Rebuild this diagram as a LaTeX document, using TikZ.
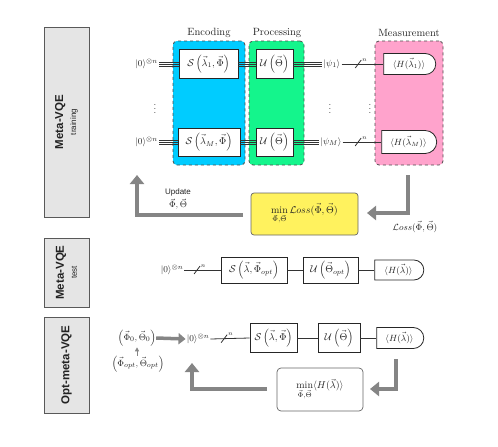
\documentclass[tikz,border=0pt]{standalone}
\usepackage{fontspec}
\usepackage{amsmath}
\newfontfamily\sansf{Liberation Sans}
\usetikzlibrary{arrows.meta,shapes.misc,calc}
\definecolor{encc}{HTML}{00CCFF}
\definecolor{proc}{HTML}{14F58C}
\definecolor{meas}{HTML}{FFA3CC}
\definecolor{yel}{HTML}{FFF25E}
\definecolor{ink}{HTML}{222222}
\definecolor{arr}{HTML}{858585}
\begin{document}
\begin{tikzpicture}[x=1pt,y=-1pt,
  every node/.style={text=ink},
  side/.style={draw=black!65, fill=black!10, line width=0.9pt, rotate=90, align=center, inner sep=0pt, minimum height=45pt},
  stage/.style={draw=black!70, dashed, rounded corners=4pt, line width=0.8pt},
  stagelab/.style={font=\fontsize{10.5}{12}\selectfont},
  gate/.style={draw=black!85, fill=white, line width=0.8pt, inner sep=0pt, font=\fontsize{10}{12}\selectfont},
  meter/.style={rounded rectangle, rounded rectangle left arc=none, draw=black!85, fill=white, line width=0.8pt, inner sep=0pt, font=\fontsize{9}{11}\selectfont},
  wire/.style={draw=black!80, line width=0.8pt},
  bigarrow/.style={draw=arr, line width=4.8pt, -{Triangle[length=9pt,width=14pt]}},
  txt/.style={font=\fontsize{9.5}{11}\selectfont, inner sep=1pt}
]
\useasboundingbox (0,0) rectangle (498,447);

% side labels
\node[side, minimum width=190pt] (lab1) at (66.5,122) {{\sansf\bfseries\fontsize{11.5}{14}\selectfont Meta-VQE}\\[1pt]{\sansf\fontsize{8}{10}\selectfont training}};
\node[side, minimum width=69pt] (lab2) at (66.5,272.5) {{\sansf\bfseries\fontsize{11.5}{14}\selectfont Meta-VQE}\\[1pt]{\sansf\fontsize{8}{10}\selectfont test}};
\node[side, minimum width=96pt] (lab3) at (66.5,365) {{\sansf\bfseries\fontsize{11.5}{14}\selectfont Opt-meta-VQE}};

% stage boxes
\node[stage, fill=encc, minimum width=72pt, minimum height=124pt] (enc) at (209,103) {};
\node[stage, fill=proc, minimum width=55pt, minimum height=124pt] (pro) at (276.5,103) {};
\node[stage, fill=meas, minimum width=68pt, minimum height=124pt] (mea) at (409,103) {};
\node[stagelab] (encl) at (209,33) {Encoding};
\node[stagelab] (prol) at (277,33) {Processing};
\node[stagelab] (meal) at (409,33) {Measurement};

% training row 1
\node[txt, anchor=east] (z1) at (159,64) {$|0\rangle^{\otimes n}$};
\node[gate, minimum width=59pt, minimum height=29pt] (S1) at (208.5,64) {$\mathcal{S}\left(\vec{\lambda}_1,\vec{\Phi}\right)$};
\node[gate, minimum width=37pt, minimum height=29pt] (U1) at (274.5,64) {$\mathcal{U}\left(\vec{\Theta}\right)$};
\node[txt] (psi1) at (332,64) {$|\psi_1\rangle$};
\node[meter, minimum width=52pt, minimum height=21pt] (M1) at (409,64) {$\langle H(\vec{\lambda}_1)\rangle$};

% training row M
\node[txt, anchor=east] (zM) at (159,142) {$|0\rangle^{\otimes n}$};
\node[gate, minimum width=62pt, minimum height=28pt] (SM) at (209,142) {$\mathcal{S}\left(\vec{\lambda}_M,\vec{\Phi}\right)$};
\node[gate, minimum width=37pt, minimum height=28pt] (UM) at (274.5,142) {$\mathcal{U}\left(\vec{\Theta}\right)$};
\node[txt] (psiM) at (331,142) {$|\psi_M\rangle$};
\node[meter, minimum width=55pt, minimum height=23pt] (MM) at (408.5,142) {$\langle H(\vec{\lambda}_M)\rangle$};

% dots
\node[txt] (d1) at (155,106) {$\vdots$};
\node[txt] (d2) at (330,106) {$\vdots$};
\node[txt] (d3) at (370,106) {$\vdots$};

% triple wires
\foreach \a/\b in {z1/S1,S1/U1,U1/psi1,zM/SM,SM/UM,UM/psiM}{
  \foreach \d in {-2,0,2}{
    \draw[wire, line width=0.7pt] ([yshift=\d pt]\a.east) -- ([yshift=\d pt]\b.west);
  }
}
% single wires with slash
\foreach \a/\b in {psi1/M1,psiM/MM}{
  \draw[wire] (\a.east) -- (\b.west);
  \draw[wire] ($(\a.east)!0.4!(\b.west)+(-3,4)$) -- ++(6,-8) node[right, inner sep=0.5pt, font=\fontsize{6}{7}\selectfont] {$n$};
}

% loss box and arrows
\node[draw=black!60, fill=yel, rounded corners=3pt, line width=0.7pt, minimum width=107pt, minimum height=42pt, inner sep=0pt] (loss) at (304.5,214) {$\displaystyle\min_{\vec{\Phi},\vec{\Theta}}\mathcal{L}oss(\vec{\Phi},\vec{\Theta})$};
\coordinate (r1) at (408,175);
\coordinate (r2) at (367,213);
\draw[bigarrow] (r1) |- (r2);
\coordinate (l1) at (243,215);
\coordinate (l2) at (137,175);
\draw[bigarrow] (l1) -| (l2);
\node[font=\sansf\fontsize{8}{9}\selectfont, inner sep=0pt] (upd) at (178,192) {Update};
\node[txt] (updv) at (178,204) {$\vec{\Phi},\vec{\Theta}$};
\node[txt] (lossl) at (415,227) {$\mathcal{L}oss(\vec{\Phi},\vec{\Theta})$};

% test row
\node[txt] (zt) at (172,270) {$|0\rangle^{\otimes n}$};
\node[gate, minimum width=66pt, minimum height=26pt] (St) at (254,270) {$\mathcal{S}\left(\vec{\lambda},\vec{\Phi}_{opt}\right)$};
\node[gate, minimum width=55pt, minimum height=26pt] (Ut) at (330.5,270) {$\mathcal{U}\left(\vec{\Theta}_{opt}\right)$};
\node[meter, minimum width=49pt, minimum height=20pt] (Mt) at (398.5,270) {$\langle H(\vec{\lambda})\rangle$};
\draw[wire] (zt.east) -- (St.west);
\draw[wire] ($(zt.east)!0.35!(St.west)+(-3,4)$) -- ++(6,-8) node[right, inner sep=0.5pt, font=\fontsize{6}{7}\selectfont] {$n$};
\draw[wire] (St.east) -- (Ut.west);
\draw[wire] (Ut.east) -- (Mt.west);

% opt row
\node[txt, inner sep=0pt] (p0) at (137,338) {$\left(\vec{\Phi}_0,\vec{\Theta}_0\right)$};
\node[txt, inner sep=0pt] (popt) at (138,364) {$\left(\vec{\Phi}_{opt},\vec{\Theta}_{opt}\right)$};
\node[txt] (zo) at (198,339) {$|0\rangle^{\otimes n}$};
\node[gate, minimum width=47pt, minimum height=29pt] (So) at (273.5,338) {$\mathcal{S}\left(\vec{\lambda},\vec{\Phi}\right)$};
\node[gate, minimum width=42pt, minimum height=29pt] (Uo) at (339,338) {$\mathcal{U}\left(\vec{\Theta}\right)$};
\node[meter, minimum width=47pt, minimum height=21pt] (Mo) at (399.5,338) {$\langle H(\vec{\lambda})\rangle$};
\draw[wire] (zo.east) -- (So.west);
\draw[wire] ($(zo.east)!0.35!(So.west)+(-3,4)$) -- ++(6,-8) node[right, inner sep=0.5pt, font=\fontsize{6}{7}\selectfont] {$n$};
\draw[wire] (So.east) -- (Uo.west);
\draw[wire] (Uo.east) -- (Mo.west);
\draw[draw=arr, line width=3.5pt, -{Triangle[length=7pt,width=11pt]}] (p0.east) -- (zo.west);
\draw[draw=arr, line width=0.8pt, -{Triangle[length=4pt,width=4pt]}, shorten >=1pt] (popt.north -| p0.south) -- (p0.south);

\node[draw=black!60, fill=white, rounded corners=4pt, line width=0.7pt, minimum width=86pt, minimum height=43pt, inner sep=0pt] (mino) at (320,389.5) {$\displaystyle\min_{\vec{\Phi},\vec{\Theta}}\langle H(\vec{\lambda})\rangle$};
\coordinate (or1) at (396,359);
\coordinate (or2) at (370,389);
\draw[bigarrow] (or1) |- (or2);
\coordinate (ol1) at (267,389);
\coordinate (ol2) at (192,363);
\draw[bigarrow] (ol1) -| (ol2);
\end{tikzpicture}
\end{document}
